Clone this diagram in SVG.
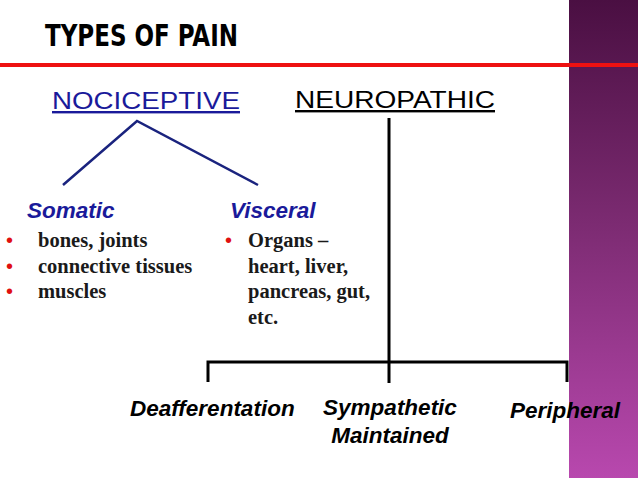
<svg xmlns="http://www.w3.org/2000/svg" width="638" height="478" viewBox="0 0 638 478">
<defs>
<linearGradient id="pg" x1="0" y1="0" x2="0" y2="1">
<stop offset="0" stop-color="#4a0f42"/><stop offset="0.45" stop-color="#7a2a70"/><stop offset="1" stop-color="#b848ae"/>
</linearGradient>
<style>
.h{font-family:"Liberation Sans",Arial,sans-serif;font-size:24px}
.s{font-family:"Liberation Sans",Arial,sans-serif;font-size:22.5px;font-style:italic;font-weight:bold}
.b{font-family:"Liberation Serif","Times New Roman",serif;font-size:20.5px;font-weight:bold;fill:#1a1a1a}
.r{fill:#e01010;font-family:"Liberation Sans",Arial,sans-serif;font-size:20px}
.k{stroke:#000;stroke-width:3;fill:none}
</style>
</defs>
<rect width="638" height="478" fill="#fff"/>
<rect x="569" y="0" width="69" height="478" fill="url(#pg)"/>
<rect x="0" y="63" width="638" height="4" fill="#ee1111"/>
<text x="45" y="46" font-family="DejaVu Sans" font-weight="bold" font-stretch="condensed" font-size="31" fill="#000" textLength="193" lengthAdjust="spacingAndGlyphs">TYPES  OF  PAIN</text>
<g id="nociceptive"><text class="h" x="52" y="109" fill="#1a1a9a" text-decoration="underline" textLength="188" lengthAdjust="spacingAndGlyphs">NOCICEPTIVE</text></g>
<g id="neuropathic"><text class="h" x="295" y="108" fill="#000" text-decoration="underline" textLength="200" lengthAdjust="spacingAndGlyphs">NEUROPATHIC</text></g>
<g id="somatic"><text class="s" x="27" y="218" fill="#1a1a9a">Somatic</text>
<text class="r" x="6" y="247">•</text><text class="b" x="38" y="247">bones, joints</text>
<text class="r" x="6" y="273">•</text><text class="b" x="38" y="273">connective tissues</text>
<text class="r" x="6" y="298">•</text><text class="b" x="38" y="298">muscles</text></g>
<g id="visceral"><text class="s" x="230" y="218" fill="#1a1a9a">Visceral</text>
<text class="r" x="225" y="247">•</text><text class="b" x="248" y="247">Organs –</text>
<text class="b" x="248" y="273">heart, liver,</text>
<text class="b" x="248" y="298">pancreas, gut,</text>
<text class="b" x="248" y="324">etc.</text></g>
<g id="deafferentation"><text class="s" x="130" y="416" fill="#000">Deafferentation</text></g>
<g id="sympathetic"><text class="s" x="390" y="415" fill="#000" text-anchor="middle">Sympathetic</text><text class="s" x="390" y="443" fill="#000" text-anchor="middle">Maintained</text></g>
<g id="peripheral"><text class="s" x="510" y="418" fill="#000">Peripheral</text></g>
<g id="connectors">
<polyline points="63,185 137,121 258,185" stroke="#1a237e" stroke-width="2.5" fill="none"/>
<line class="k" x1="389" y1="118" x2="389" y2="383"/>
<polyline class="k" points="208,382 208,362 567,362 567,382"/>
</g>
</svg>
